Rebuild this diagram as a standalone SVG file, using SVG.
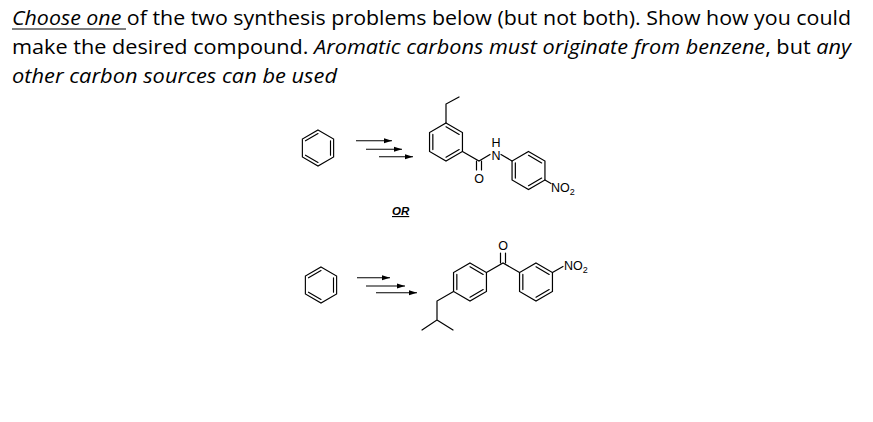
<svg xmlns="http://www.w3.org/2000/svg" width="873" height="422" viewBox="0 0 873 422">
<style>
.t{font-family:"Open Sans","Liberation Sans",Arial,sans-serif;font-size:20px;fill:#000}
.i{font-style:italic}
.b{stroke:#000;stroke-width:1.2;fill:none;stroke-linecap:round}
.a{font-family:"Liberation Sans",Arial,sans-serif;font-size:12.5px;fill:#000}
.ar{stroke:#000;stroke-width:1.1;fill:none}
</style>
<defs>
<marker id="h" markerWidth="8" markerHeight="6" refX="8" refY="3" orient="auto" markerUnits="userSpaceOnUse"><path d="M0,0.5L8,3L0,5.5z" fill="#000"/></marker>
<g id="ringA" class="b"><path d="M0,-19L16.45,-9.5L16.45,9.5L0,19L-16.45,9.5L-16.45,-9.5Z"/><path d="M0,-15.2L13.16,-7.6M13.16,7.6L0,15.2M-13.16,7.6L-13.16,-7.6"/></g>
<g id="ringB" class="b"><path d="M0,-19L16.45,-9.5L16.45,9.5L0,19L-16.45,9.5L-16.45,-9.5Z"/><path d="M13.16,-7.6L13.16,7.6M0,15.2L-13.16,7.6M-13.16,-7.6L0,-15.2"/></g>
</defs>
<g id="header">
<text class="t" x="12" y="25" textLength="839" lengthAdjust="spacingAndGlyphs"><tspan class="i">Choose one </tspan>of the two synthesis problems below (but not both). Show how you could</text>
<line x1="12" y1="29" x2="126" y2="29" stroke="#000" stroke-width="1.2"/>
<text class="t" x="12" y="54" textLength="839" lengthAdjust="spacingAndGlyphs">make the desired compound. <tspan class="i">Aromatic carbons must originate from benzene</tspan>, but <tspan class="i">any</tspan></text>
<text class="t i" x="12" y="83" textLength="325" lengthAdjust="spacingAndGlyphs">other carbon sources can be used</text>
</g>
<g id="benzene1"><use href="#ringB" transform="translate(318,148) scale(0.95)"/></g>
<g id="benzene2"><use href="#ringB" transform="translate(321,285) scale(0.95)"/></g>
<g id="target1">
<use href="#ringA" transform="translate(446,142)"/>
<path class="b" d="M446,123L446,104L459,97"/>
<path class="b" d="M462.45,151.5L479,161L490,154.5M501,154.5L512,161"/>
<path class="b" d="M476.5,161L476.5,170M481.5,161L481.5,170"/>
<text class="a" x="479" y="183" text-anchor="middle">O</text>
<text class="a" x="496" y="160" text-anchor="middle">N</text>
<text class="a" x="496" y="147" text-anchor="middle">H</text>
<use href="#ringA" transform="translate(528.5,170.5)"/>
<path class="b" d="M544.95,180L551,183.5"/>
<text class="a" x="551" y="192">NO<tspan font-size="9" dy="3">2</tspan></text>
</g>
<text id="or" x="392" y="215" font-family="Liberation Sans,Arial,sans-serif" font-size="11.5" font-weight="bold" font-style="italic" text-decoration="underline">OR</text>
<g id="target2">
<use href="#ringA" transform="translate(470,282)"/>
<path class="b" d="M486.45,272.5L503,263L519.55,272.5"/>
<path class="b" d="M500.5,263L500.5,253M505.5,263L505.5,253"/>
<text class="a" x="503" y="250" text-anchor="middle">O</text>
<use href="#ringA" transform="translate(536,282)"/>
<path class="b" d="M552.45,272.5L563,266.5"/>
<text class="a" x="564" y="270">NO<tspan font-size="9" dy="3">2</tspan></text>
<path class="b" d="M453.55,291.5L437,301L437,320L422,330M437,320L453,330"/>
</g>
<g id="connectors">
<line class="ar" x1="356" y1="140.7" x2="392" y2="140.7" marker-end="url(#h)"/>
<line class="ar" x1="366" y1="149.3" x2="402" y2="149.3" marker-end="url(#h)"/>
<line class="ar" x1="379" y1="156.7" x2="413" y2="156.7" marker-end="url(#h)"/>
<line class="ar" x1="357" y1="277.7" x2="390" y2="277.7" marker-end="url(#h)"/>
<line class="ar" x1="366" y1="286" x2="405" y2="286" marker-end="url(#h)"/>
<line class="ar" x1="376" y1="292.7" x2="417" y2="292.7" marker-end="url(#h)"/>
</g>
</svg>
